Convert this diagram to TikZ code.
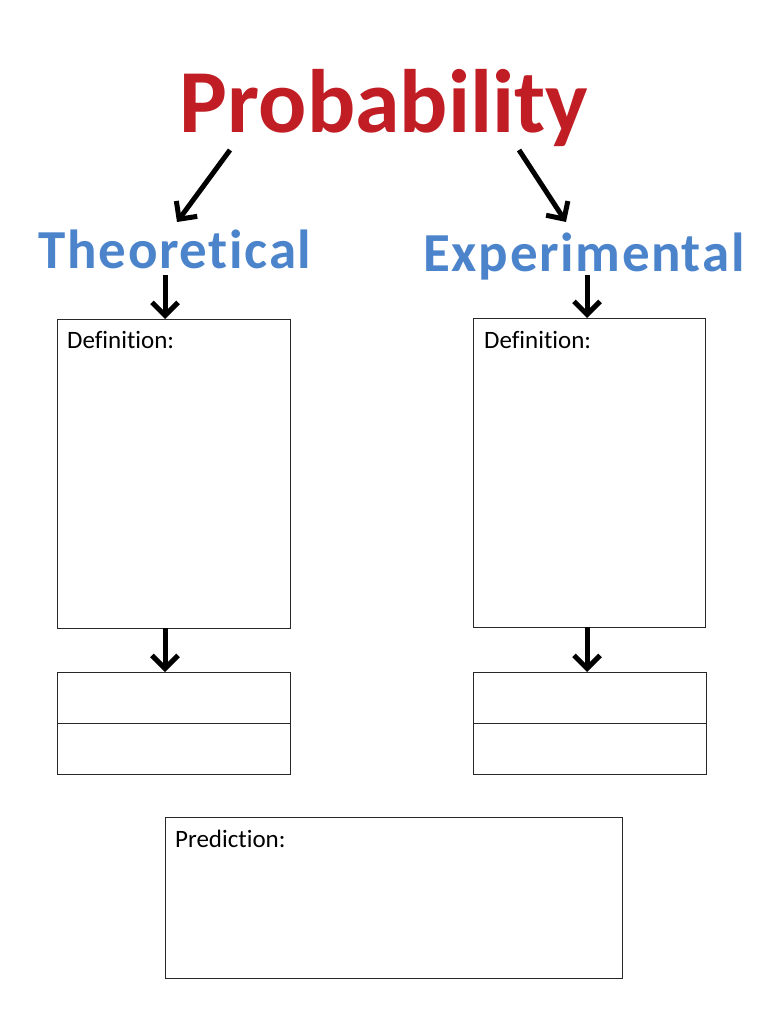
\documentclass[tikz,border=0pt]{standalone}
\usepackage{fontspec}
\setmainfont{Carlito}[Ligatures=NoCommon]
\newfontfamily\headfont{Carlito}[Ligatures=NoCommon,LetterSpace=3]
\usetikzlibrary{arrows.meta,calc}
\definecolor{tred}{RGB}{192,30,36}
\definecolor{tblue}{RGB}{76,132,204}
\definecolor{boxline}{RGB}{40,40,40}
\begin{document}
\begin{tikzpicture}[x=1pt,y=-1pt,
  box/.style={draw=boxline,line width=1pt,inner sep=0pt,outer sep=0pt,anchor=north west},
  lbl/.style={anchor=base west,inner sep=0pt,font=\fontsize{25}{25}\selectfont},
  headline/.style={anchor=base,inner sep=0pt,text=tblue,font=\headfont\fontsize{55}{55}\selectfont\bfseries},
  conn/.style={line width=5pt,-{Straight Barb[length=13pt,width=26pt]}},
]
\useasboundingbox (0,0) rectangle (768,1024);

% title and headings
\node[anchor=base,inner sep=0pt,text=tred,font=\fontsize{90}{90}\selectfont\bfseries] (title) at (384,133) {Probability};
\node[headline] (theo) at (175,268) {Theoretical};
\node[headline] (exper) at (584,271) {Experimental};

% boxes
\node[box,minimum width=233pt,minimum height=309pt] (defL) at (57,319) {};
\node[box,minimum width=232pt,minimum height=309pt] (defR) at (473,318) {};
\node[box,minimum width=233pt,minimum height=51pt] (resLa) at (57,672) {};
\node[box,minimum width=233pt,minimum height=51pt] (resLb) at (57,723) {};
\node[box,minimum width=233pt,minimum height=51pt] (resRa) at (473,672) {};
\node[box,minimum width=233pt,minimum height=51pt] (resRb) at (473,723) {};
\node[box,minimum width=457pt,minimum height=161pt] (pred) at (165,817) {};

% labels
\node[lbl] (defLtxt) at (67,348) {Definition:};
\node[lbl] (defRtxt) at (484,348) {Definition:};
\node[lbl] (predtxt) at (175,847) {Prediction:};

% connector end points
\coordinate (pL) at (230,150);
\coordinate (pR) at (519,150);
\coordinate (tL) at (177,222);
\coordinate (tR) at (566,222);
\coordinate (thL) at (165,275);
\coordinate (thR) at (587,275);
\coordinate (lowL) at (165,628);
\coordinate (lowR) at (587,628);

% connectors
\draw[conn] (pL) -- (tL);
\draw[conn] (pR) -- (tR);
\draw[conn] (thL) -- (thL |- defL.north);
\draw[conn] (thR) -- (thR |- defR.north);
\draw[conn] (lowL |- defL.south) -- (lowL |- resLa.north);
\draw[conn] (lowR |- defR.south) -- (lowR |- resRa.north);
\end{tikzpicture}
\end{document}
